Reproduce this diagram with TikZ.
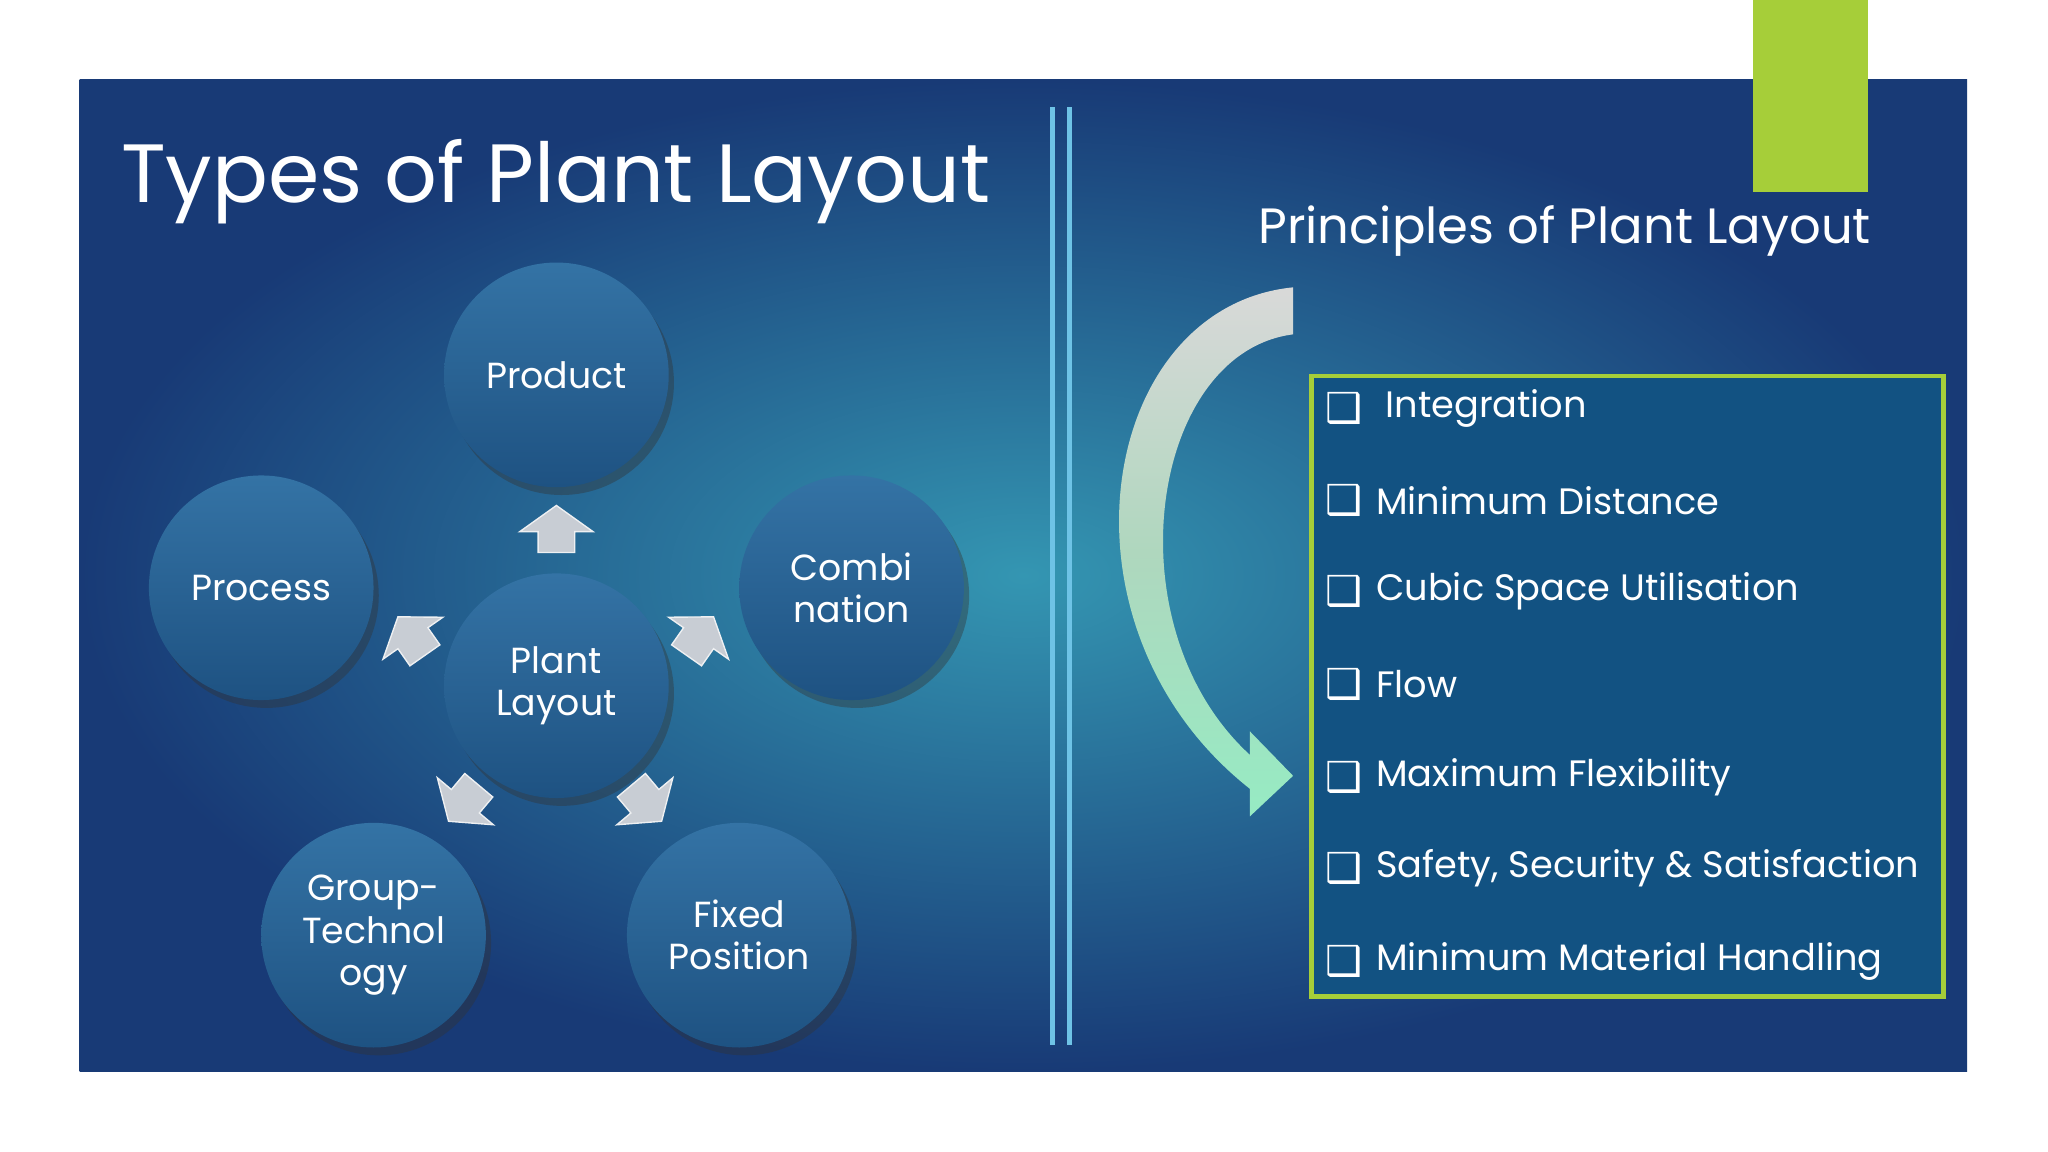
\documentclass[tikz,border=0pt]{standalone}
\usepackage{fontspec}
\setmainfont{Poppins}
\newfontfamily\symfont{DejaVu Sans}
\usetikzlibrary{shadows}
\definecolor{slideout}{RGB}{24,58,118}
\definecolor{slidein}{RGB}{52,150,178}
\definecolor{lime}{RGB}{166,206,57}
\definecolor{vline}{RGB}{110,195,230}
\definecolor{ballin}{RGB}{52,115,165}
\definecolor{ballout}{RGB}{30,82,130}
\definecolor{boxfill}{RGB}{18,82,130}
\definecolor{arrgray}{RGB}{200,205,212}
\tikzset{
  ball/.style={circle, minimum size=172*0.01cm, inner sep=0pt, align=center, text=white,
    font=\fontsize{7.9}{9.2}\selectfont, top color=ballin, bottom color=ballout,
    drop shadow={shadow xshift=0.04cm, shadow yshift=-0.06cm, opacity=0.4, fill=black!80}},
  blk/.style={fill=arrgray, draw=white!70!arrgray, line width=0.3pt},
  item/.style={anchor=west, text=white, font=\fontsize{8}{10}\selectfont, inner sep=0pt},
  chk/.style={anchor=center, text=white, font=\symfont\bfseries\fontsize{9}{10}\selectfont, inner sep=0pt}
}
\begin{document}
\begin{tikzpicture}[x=0.01cm,y=-0.01cm]
\useasboundingbox (0,0) rectangle (1568,882);
\fill[white] (0,0) rectangle (1568,882);
\shade[inner color=slidein, outer color=slideout] (61,61) rectangle (1506,820);
\fill[lime] (1342,0) rectangle (1430,147);
\node[anchor=base west, text=white, font=\fontsize{18}{21}\selectfont, inner sep=0pt] (title) at (92,155) {Types of Plant Layout};
\draw[vline, line width=1.2pt] (806,82) -- (806,800);
\draw[vline, line width=1.2pt] (819,82) -- (819,800);
% balls
\node[ball] (prod) at (426,287) {Product};
\node[ball] (proc) at (200,450) {Process};
\node[ball] (plant) at (426,525) {Plant\\Layout};
\node[ball] (comb) at (652,450) {Combi\\nation};
\node[ball] (grp) at (286,716) {Group-\\Technol\\ogy};
\node[ball] (fix) at (566,716) {Fixed\\Position};
% block arrows
\foreach \ax/\ay/\r in {426/405/0, 315/487/35, 536/487/-35, 355/615/140, 495/615/-140}{
  \begin{scope}[shift={(\ax,\ay)}, rotate=\r]
    \filldraw[blk] (-14,18) -- (14,18) -- (14,2) -- (28,2) -- (0,-18) -- (-28,2) -- (-14,2) -- cycle;
  \end{scope}}
% right title
\node[text=white, font=\fontsize{10.8}{13}\selectfont, inner sep=0pt] (ptitle) at (1198,177) {Principles of Plant Layout};
% curved arrow
\shade[top color=white!70!gray, bottom color={rgb,255:red,150;green,235;blue,195}, middle color={rgb,255:red,175;green,215;blue,190}]
  (990,220) .. controls (840,235) and (800,480) .. (957,604) -- (957,625) -- (990,594) -- (957,560) -- (957,578)
  .. controls (850,480) and (880,270) .. (990,256) -- cycle;
% box
\draw[lime, line width=1pt, fill=boxfill] (1004,288) rectangle (1488,763);
\foreach \y/\t/\n in {313/{\hspace{2pt}Integration}/a, 383/Minimum Distance/b, 453/Cubic Space Utilisation/c, 524/Flow/d, 595/Maximum Flexibility/e, 665/{Safety, Security \& Satisfaction}/f, 736/Minimum Material Handling/g}{
  \node[chk] (c\n) at (1029,\y) {❑};
  \node[item] (t\n) at (1053,\y) {\t};
}
\end{tikzpicture}
\end{document}
